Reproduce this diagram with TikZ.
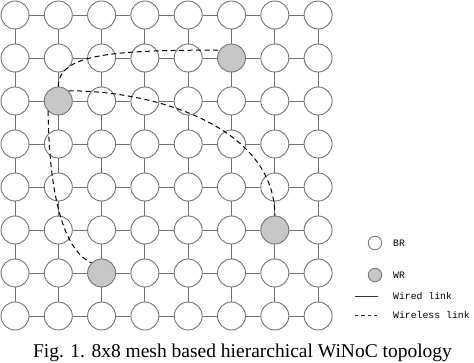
\documentclass[tikz,border=0pt]{standalone}
\usepackage{fontspec}
\setmainfont{Liberation Serif}
\newfontfamily\legendfont{Liberation Mono}
\usetikzlibrary{positioning}

\begin{document}
\begin{tikzpicture}[
    x=1pt, y=-1pt,
    br/.style={circle, draw=black!55, line width=0.9pt, fill=white, minimum size=28pt, inner sep=0pt},
    wr/.style={br, fill=black!22},
    wr at 6-2/.style={wr}, wr at 2-3/.style={wr}, wr at 7-6/.style={wr}, wr at 3-7/.style={wr},
    wire/.style={draw=black!55, line width=0.9pt},
    wireless/.style={draw=black, line width=1pt, dash pattern=on 5pt off 3.5pt},
    legend/.style={font=\legendfont\fontsize{9.8}{11}\selectfont, anchor=west, inner sep=0pt},
    legcircle/.style={circle, draw=black!55, line width=0.8pt, minimum size=13.5pt, inner sep=0pt}
]
\useasboundingbox (0,0) rectangle (474,363);
% Routers
\foreach \c in {1,...,8}
  \foreach \r in {1,...,8}
    \node[br, wr at \c-\r/.try] (n-\c-\r) at ({15+43.3*(\c-1)}, {15+43*(\r-1)}) {};
% Wired links
\foreach \c [evaluate=\c as \nc using int(\c+1)] in {1,...,7}
  \foreach \r in {1,...,8}
    \draw[wire] (n-\c-\r) -- (n-\nc-\r);
\foreach \r [evaluate=\r as \nr using int(\r+1)] in {1,...,7}
  \foreach \c in {1,...,8}
    \draw[wire] (n-\c-\r) -- (n-\c-\nr);
% Wireless links
\draw[wireless] (n-2-3.north) .. controls +(0,-33) and +(-105,0) .. (n-6-2.147);
\draw[wireless] (n-2-3.45) .. controls +(92,0) and +(0,-86) .. (n-7-6.north);
\draw[wireless] (n-2-3.-135) .. controls +(1,80) and +(-29,-13) .. (n-3-7.135);
% Legend
\node[legcircle] (lbr) at (375,243) {};
\node[legcircle, fill=black!22] (lwr) at (375,275) {};
\node[legend] (tbr) at (393,243) {BR};
\node[legend] (twr) at (393,275) {WR};
\node[legend] (twired) at (393,296) {Wired link};
\node[legend] (twless) at (393,315) {Wireless link};
\coordinate[left=15pt of twired] (wiredend);
\coordinate[left=38pt of twired] (wiredstart);
\coordinate[left=15pt of twless] (wlessend);
\coordinate[left=38pt of twless] (wlessstart);
\draw[black!80, line width=0.8pt] (wiredstart) -- (wiredend);
\draw[black!80, line width=0.8pt, dash pattern=on 3.2pt off 3.2pt] (wlessstart) -- (wlessend);
% Caption
\node[anchor=base, inner sep=0pt, font=\fontsize{19.5}{21}\selectfont] (caption) at (242.5,358) {Fig. 1. 8x8 mesh based hierarchical WiNoC topology};
\end{tikzpicture}
\end{document}
